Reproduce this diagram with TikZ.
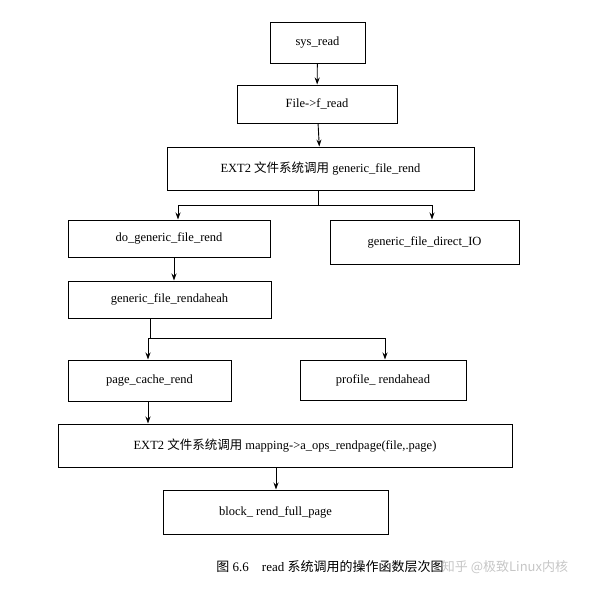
\documentclass[tikz,border=0pt]{standalone}
\usepackage{fontspec}
\setmainfont{Liberation Serif}
\newfontfamily\cjk{Noto Sans CJK SC}
\usetikzlibrary{arrows.meta}
\begin{document}
\begin{tikzpicture}[x=1pt,y=-1pt,
  bx/.style={draw,line width=1pt,inner sep=0pt,font=\fontsize{12.5}{14}\selectfont},
  ar/.style={line width=0.9pt,-{Stealth[length=7pt,width=5pt]}},
  ln/.style={line width=0.9pt}]
\useasboundingbox (0,0) rectangle (600,590);
\node[bx,minimum width=95pt,minimum height=41pt] (a) at (317.5,42.5) {sys\_read};
\node[bx,minimum width=160pt,minimum height=38pt] (b) at (317,104) {File->f\_read};
\node[bx,minimum width=307pt,minimum height=43pt] (c) at (320.5,168.5) {EXT2 {\cjk 文件系统调用} generic\_file\_rend};
\node[bx,minimum width=202pt,minimum height=37pt] (d) at (169,238.5) {do\_generic\_file\_rend};
\node[bx,minimum width=189pt,minimum height=44pt] (e) at (424.5,242) {generic\_file\_direct\_IO};
\node[bx,minimum width=203pt,minimum height=37pt] (f) at (169.5,299.5) {generic\_file\_rendaheah};
\node[bx,minimum width=163pt,minimum height=41pt] (g) at (149.5,380.5) {page\_cache\_rend};
\node[bx,minimum width=166pt,minimum height=40pt] (h) at (383,380) {profile\_ rendahead};
\node[bx,minimum width=454pt,minimum height=43pt] (i) at (285,445.5) {EXT2 {\cjk 文件系统调用} mapping->a\_ops\_rendpage(file,.page)};
\node[bx,minimum width=225pt,minimum height=44pt] (j) at (275.5,512) {block\_ rend\_full\_page};
\draw[ar] (a) -- (b);
\draw[ar] (b) -- (c);
\coordinate (c1) at (318,205);
\draw[ln] (318,190) -- (c1);
\draw[ar] (c1) -| (d.north -| 178,0);
\draw[ar] (c1) -| (e.north -| 432,0);
\draw[ar] (d.south -| 174,0) -- (f.north -| 174,0);
\coordinate (f1) at (150,338);
\draw[ln] (150,318) -- (f1);
\draw[ar] (f1) -| (g.north -| 148,0);
\draw[ar] (f1) -| (h.north -| 385,0);
\draw[ar] (g.south -| 148,0) -- (i.north -| 148,0);
\draw[ar] (i.south -| 276,0) -- (j.north -| 276,0);
\node[font=\fontsize{13}{15}\selectfont] (cap) at (330,567) {{\cjk 图} 6.6\quad read {\cjk 系统调用的操作函数层次图}};
\node[font=\fontsize{13}{15}\selectfont\cjk,text=gray!45] (wm) at (505,567) {知乎 @极致Linux内核};
\end{tikzpicture}
\end{document}
